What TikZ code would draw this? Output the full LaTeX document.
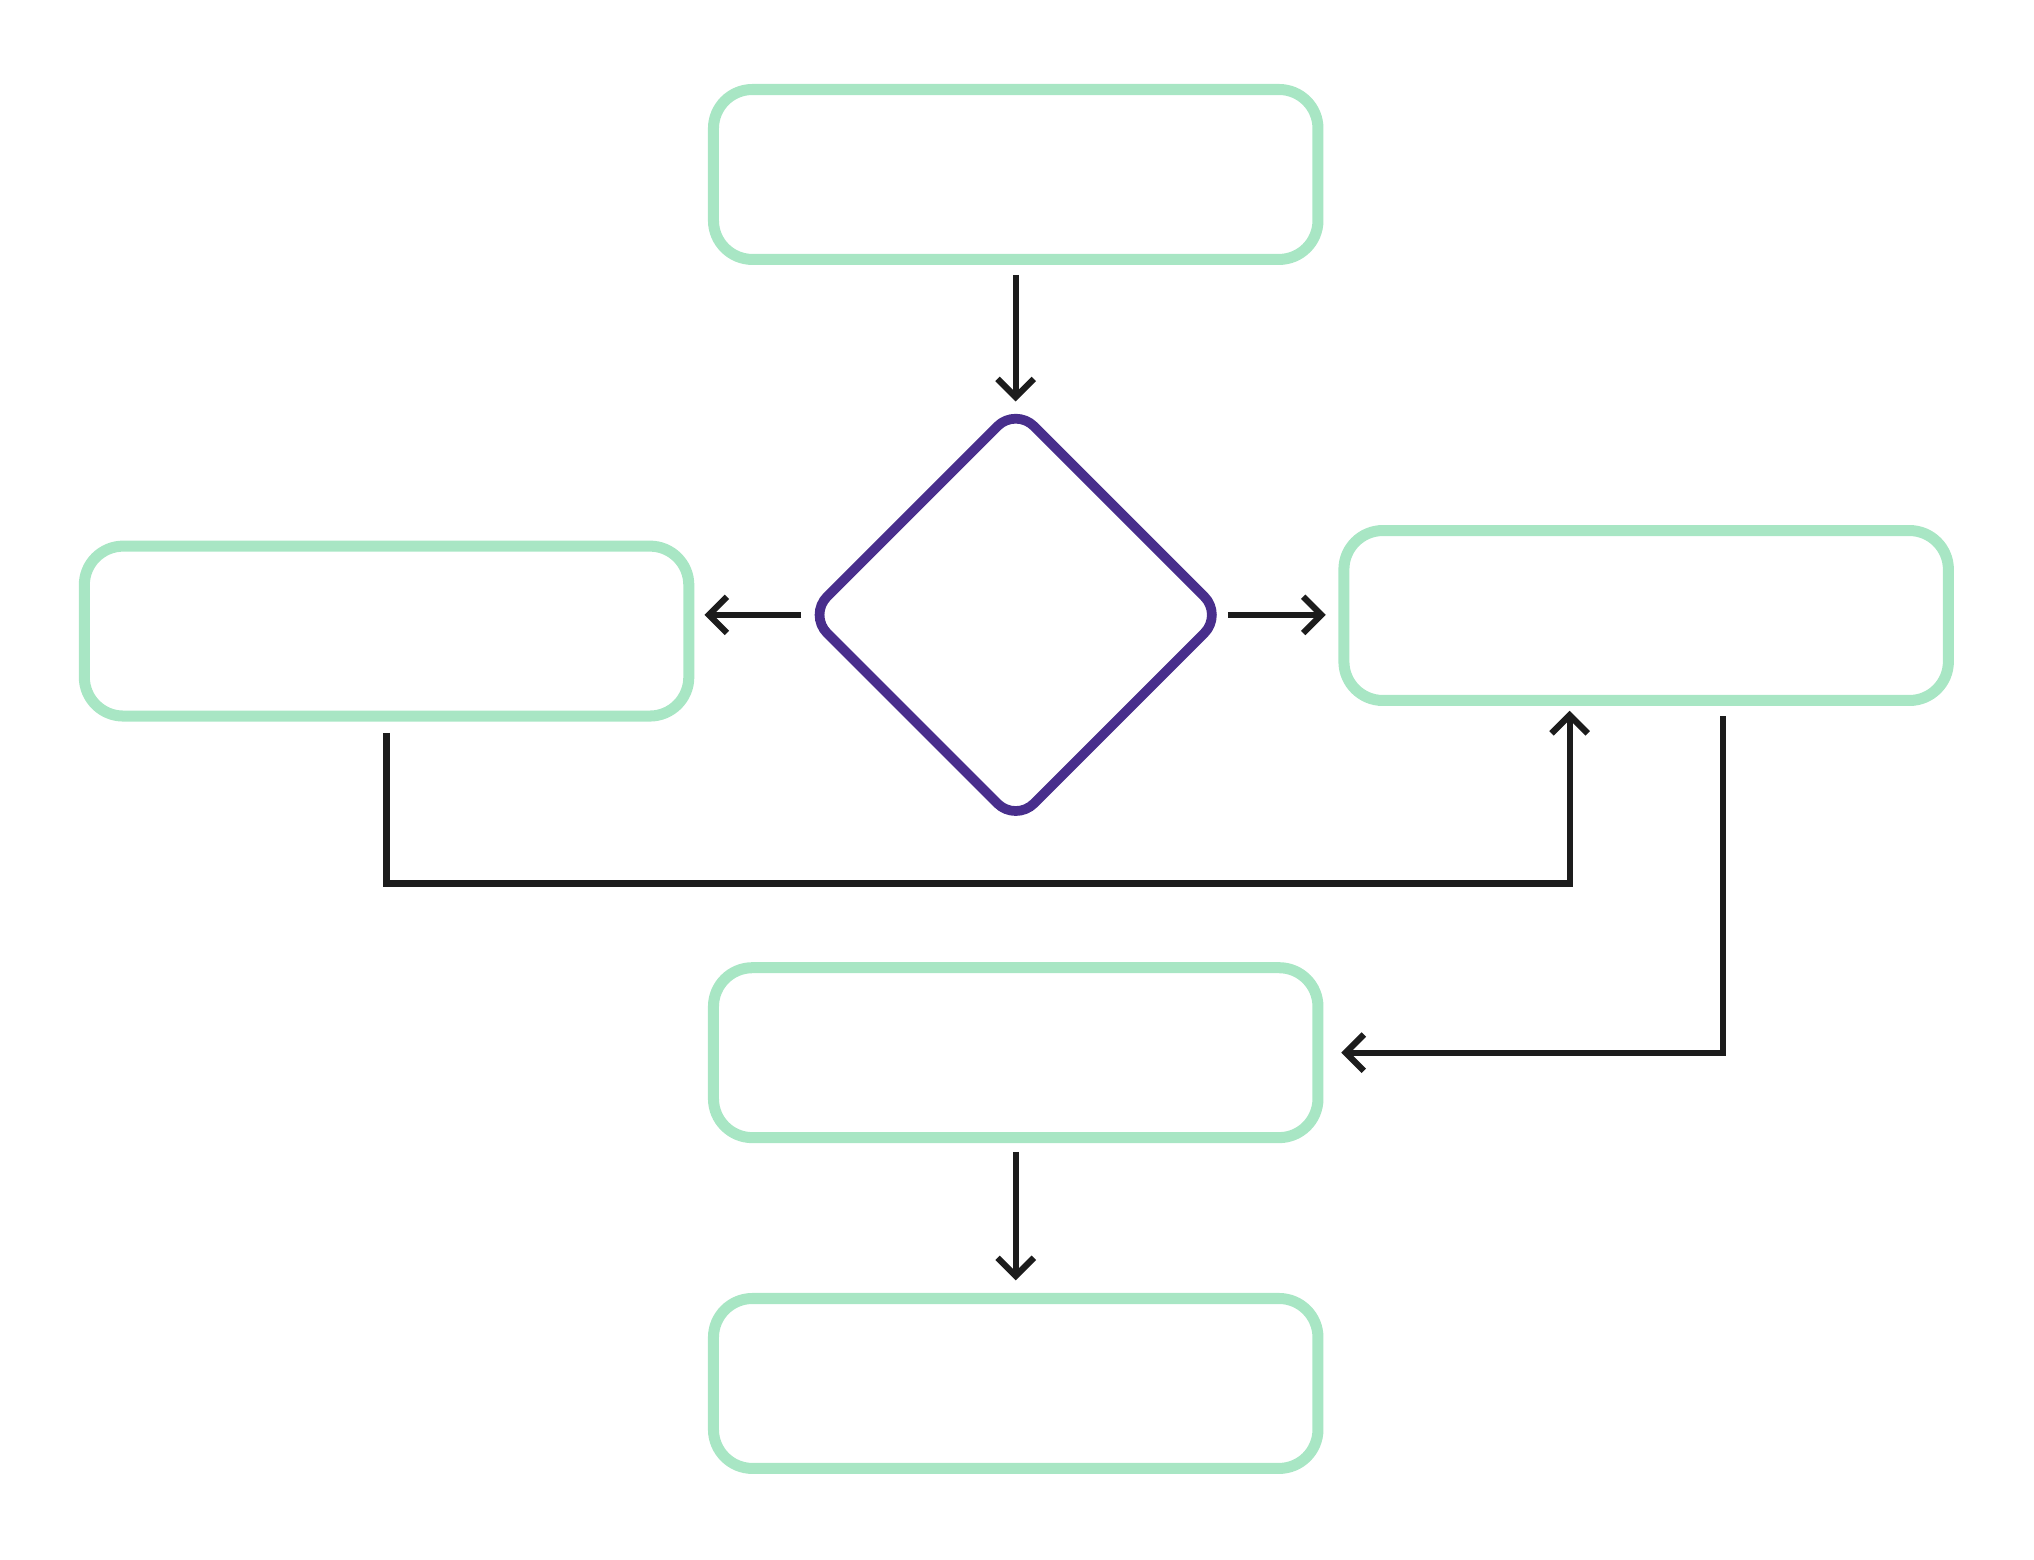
\documentclass[tikz,border=0pt]{standalone}
\usepackage{xcolor}
\usepackage{tikz}
\usetikzlibrary{shapes.geometric, arrows.meta}

\definecolor{mint}{HTML}{A8E6C4}
\definecolor{grape}{HTML}{482E8C}
\definecolor{ink}{HTML}{1C1C1C}

\begin{document}
\begin{tikzpicture}[
  x=0.5pt, y=-0.5pt,
  every node/.style={outer sep=0pt, inner sep=0pt},
  box/.style={draw=mint, line width=4.25pt, rectangle, rounded corners=15pt, minimum width=233pt, minimum height=65.5pt},
  decision/.style={draw=grape, line width=3.75pt, diamond, aspect=1, rounded corners=10pt, minimum width=159.5pt, minimum height=159.5pt},
  flow/.style={draw=ink, line width=2.4pt, -{Straight Barb[length=7pt, width=14pt]}, line join=miter}
]
\useasboundingbox (0,0) rectangle (1568,1202);

\node[box] (start) at (783,134.5) {};
\node[decision] (choice) at (783,474) {};
\node[box] (left) at (298,486.5) {};
\node[box] (right) at (1269,474.5) {};
\node[box] (middle) at (783,811.5) {};
\node[box] (finish) at (783,1066.5) {};

\coordinate (rIn) at ([xshift=-29.5pt]right.south);
\coordinate (rOut) at ([xshift=29.5pt]right.south);
\coordinate (bus) at (0,681);

\draw[flow, shorten <=6pt, shorten >=2.5pt] (start.south) -- (choice.north);
\draw[flow, shorten <=3pt, shorten >=6pt] (choice.west) -- (choice.west -| left.east);
\draw[flow, shorten <=2pt, shorten >=7pt] (choice.east) -- (choice.east -| right.west);
\draw[flow, shorten <=6.5pt, shorten >=4pt] (left.south) |- (bus -| rIn) -- (rIn);
\draw[flow, shorten <=6pt, shorten >=9pt] (rOut) |- (middle.east);
\draw[flow, shorten <=5.5pt, shorten >=7pt] (middle.south) -- (finish.north);
\end{tikzpicture}
\end{document}
